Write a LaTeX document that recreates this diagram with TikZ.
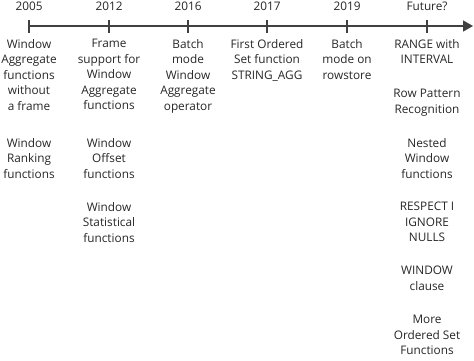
\documentclass[tikz,border=0pt]{standalone}
\usepackage{fontspec}
\setmainfont{Open Sans}
\usetikzlibrary{arrows.meta,positioning}
\tikzset{
  txt/.style={align=center, inner sep=0pt, anchor=north, text=black!85,
    font=\fontsize{11.8}{15.5}\selectfont},
  year/.style={inner sep=0pt, text=black!85, font=\fontsize{11.8}{13}\selectfont},
  axis/.style={line width=1.4pt, draw=black!75}
}
\begin{document}
\begin{tikzpicture}[x=1pt,y=-1pt]
\useasboundingbox (0,0) rectangle (474,360);
%\draw (0,0) grid (474,360);

% time line
\coordinate (t2005) at (29,26);
\coordinate (t2012) at (109,26);
\coordinate (t2016) at (188,26);
\coordinate (t2017) at (267,26);
\coordinate (t2019) at (347,26);
\coordinate (tfut) at (427,26);
\coordinate (tend) at (473,26);
\draw[axis,-{Triangle[length=10pt,width=11pt]}] (t2005) -- (tend);
\draw[axis] (t2005) ++(0,-6) -- ++(0,13);
\draw[axis] (t2012) ++(0,-6) -- ++(0,13);
\draw[axis] (t2016) ++(0,-6) -- ++(0,13);
\draw[axis] (t2017) ++(0,-6) -- ++(0,13);
\draw[axis] (t2019) ++(0,-6) -- ++(0,13);
\draw[axis] (tfut) ++(0,-6) -- ++(0,13);

\node[year, above=15pt of t2005] (y2005) {2005};
\node[year, above=15pt of t2012] (y2012) {2012};
\node[year, above=15pt of t2016] (y2016) {2016};
\node[year, above=15pt of t2017] (y2017) {2017};
\node[year, above=15pt of t2019] (y2019) {2019};
\node[year, above=15pt of tfut] (yfut) {Future?};

% 2005
\node[txt] (aggr) at (29,39) {Window\\Aggregate\\functions\\without\\a frame};
\node[txt] (rank) at (29,138) {Window\\Ranking\\functions};

% 2012
\node[txt] (frame) at (109,39) {Frame\\support for\\Window\\Aggregate\\functions};
\node[txt] (offset) at (109,138) {Window\\Offset\\functions};
\node[txt] (stat) at (109,202) {Window\\Statistical\\functions};

% 2016
\node[txt] (batch) at (188,39) {Batch\\mode\\Window\\Aggregate\\operator};

% 2017
\node[txt] (ordset) at (267,39) {First Ordered\\Set function\\STRING\_AGG};

% 2019
\node[txt] (rowstore) at (347,39) {Batch\\mode on\\rowstore};

% future
\node[txt] (range) at (427,39) {RANGE with\\INTERVAL};
\node[txt] (pattern) at (427,89) {Row Pattern\\Recognition};
\node[txt] (nested) at (427,138) {Nested\\Window\\functions};
\node[txt] (nulls) at (427,202) {RESPECT I\\IGNORE\\NULLS};
\node[txt] (clause) at (427,266) {WINDOW\\clause};
\node[txt] (more) at (427,315) {More\\Ordered Set\\Functions};
\end{tikzpicture}
\end{document}
